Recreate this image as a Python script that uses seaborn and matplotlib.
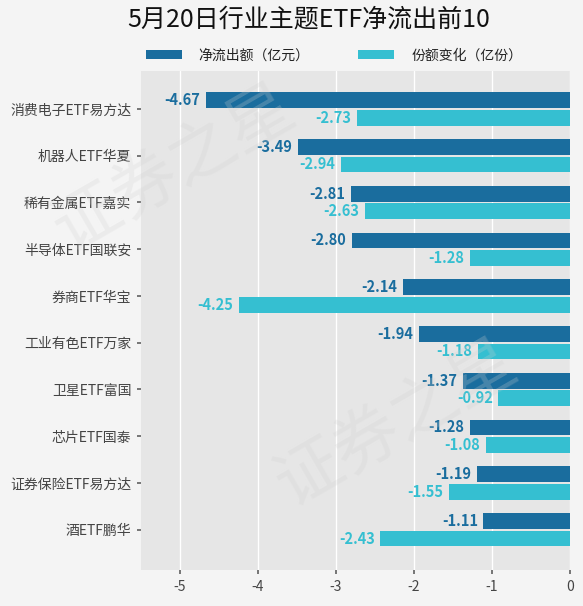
import matplotlib
matplotlib.use("Agg")
import matplotlib.pyplot as plt
import seaborn as sns
import pandas as pd

categories = ["消费电子ETF易方达", "机器人ETF华夏", "稀有金属ETF嘉实", "半导体ETF国联安", "券商ETF华宝",
              "工业有色ETF万家", "卫星ETF富国", "芯片ETF国泰", "证券保险ETF易方达", "酒ETF鹏华"]
net_outflow = [-4.67, -3.49, -2.81, -2.80, -2.14, -1.94, -1.37, -1.28, -1.19, -1.11]
share_change = [-2.73, -2.94, -2.63, -1.28, -4.25, -1.18, -0.92, -1.08, -1.55, -2.43]
series_names = ["净流出额（亿元）", "份额变化（亿份）"]
x_ticks = [-5, -4, -3, -2, -1, 0]

colors = ["#1a6d9e", "#35bfd1"]

sns.set_theme(style="darkgrid", rc={"axes.facecolor": "#e6e6e6", "figure.facecolor": "#f4f4f4",
                                    "grid.color": "white", "grid.linewidth": 1.0})
plt.rcParams['font.family'] = ['Noto Sans CJK SC', 'DejaVu Sans']

df = pd.DataFrame({
    "cat": categories * 2,
    "val": net_outflow + share_change,
    "series": [series_names[0]] * len(categories) + [series_names[1]] * len(categories),
})

fig = plt.figure(figsize=(5.83, 6.06), dpi=100)
ax = fig.add_axes([141/583, 1-570/606, (570-141)/583, (570-71)/606])

sns.barplot(data=df, y="cat", x="val", hue="series", order=categories, hue_order=series_names,
            palette=colors, orient="h", width=0.75, gap=0.1, ax=ax, legend=True, saturation=1,
            linewidth=0)

for cont, col in zip(ax.containers, colors):
    labels = [f"{v:.2f}" for v in cont.datavalues]
    ax.bar_label(cont, labels=labels, padding=4, color=col, fontsize=10.5, fontweight="bold")

# faint watermark
for (x, y) in [(0.3, 0.72), (0.68, 0.3)]:
    fig.text(x, y, "证券之星", fontsize=48, color="#d0d0d0", alpha=0.25, rotation=30,
             ha="center", va="center", zorder=5)

ax.set_xlim(-5.5, 0)
ax.set_ylim(9.86, -0.81)
ax.set_xticks(x_ticks)
ax.set_xticklabels([str(t) for t in x_ticks])
ax.set_xlabel("")
ax.set_ylabel("")
ax.tick_params(axis="both", which="both", length=3, color="#666666", labelsize=10,
               labelcolor="#444444", pad=4, bottom=True, left=True)
for s in ax.spines.values():
    s.set_visible(False)

leg = ax.legend(loc="lower center", bbox_to_anchor=(0.45, 1.0), ncol=2, frameon=False,
                fontsize=10, handlelength=2.6, handleheight=0.6, columnspacing=3.5,
                handletextpad=1.2, borderaxespad=0.2)
for t in leg.get_texts():
    t.set_color("#222222")

fig.suptitle("5月20日行业主题ETF净流出前10", fontsize=18, x=0.53, y=0.99, color="#111111")

fig.savefig("out.png", dpi=100, facecolor=fig.get_facecolor())
